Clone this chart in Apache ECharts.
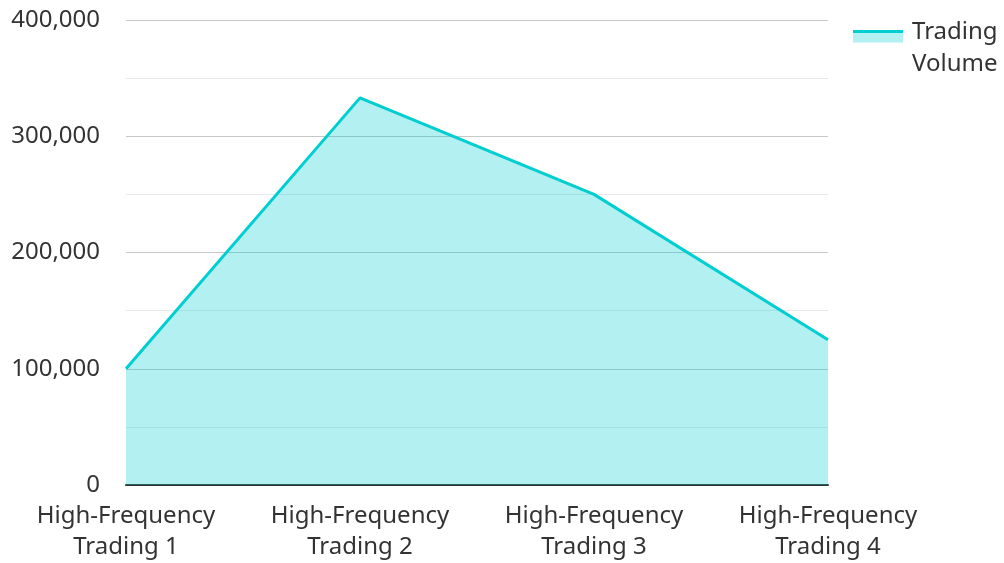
<!DOCTYPE html>
<html>
<head>
<meta charset="utf-8">
<script src="https://cdn.jsdelivr.net/npm/echarts@6/dist/echarts.min.js"></script>
<style>html,body{margin:0;padding:0;background:#fff;}#c{width:1004px;height:563px;}</style>
</head>
<body>
<div id="c"></div>
<script>
const categories = ["High-Frequency\nTrading 1", "High-Frequency\nTrading 2", "High-Frequency\nTrading 3", "High-Frequency\nTrading 4"];
const tradingVolume = [100000, 333000, 250000, 125000];
const seriesName = "Trading\nVolume";

const iconSvg = '<svg xmlns="http://www.w3.org/2000/svg" width="50" height="37" viewBox="0 0 50 37">' +
  '<rect x="0" y="3" width="50" height="10" fill="#b3f0f1"/>' +
  '<rect x="0" y="0" width="50" height="3.5" fill="#00CED1"/></svg>';
const legendIcon = 'image://data:image/svg+xml;charset=utf-8,' + encodeURIComponent(iconSvg);

const chart = echarts.init(document.getElementById('c'));
chart.setOption({
  textStyle: { fontFamily: 'Noto Sans' },
  legend: {
    left: 848, top: 11, orient: 'vertical',
    itemWidth: 50, itemHeight: 37,
    icon: legendIcon,
    textStyle: { fontSize: 24, color: '#333', lineHeight: 32, fontFamily: 'Noto Sans', padding: [0, 0, 0, 4] },
    data: [{ name: seriesName, icon: legendIcon }]
  },
  grid: { left: 126, right: 176, top: 20, bottom: 76 },
  xAxis: {
    type: 'category', data: categories, boundaryGap: false,
    axisLine: { lineStyle: { color: '#333', width: 2 } },
    axisTick: { show: false },
    axisLabel: { fontSize: 24, color: '#333', lineHeight: 31, margin: 16, fontFamily: 'Noto Sans' }
  },
  yAxis: {
    type: 'value', min: 0, max: 400000, interval: 100000,
    axisLine: { show: false }, axisTick: { show: false },
    axisLabel: { fontSize: 24, color: '#333', margin: 26, fontFamily: 'Noto Sans',
      formatter: v => v.toLocaleString('en-US') },
    splitLine: { lineStyle: { color: '#c8c8c8', width: 1 } },
    minorTick: { show: false, splitNumber: 2 },
    minorSplitLine: { show: true, lineStyle: { color: '#e8e8e8', width: 1 } }
  },
  series: [{
    name: seriesName, type: 'line', data: tradingVolume,
    symbol: 'none',
    lineStyle: { color: '#00CED1', width: 3 },
    itemStyle: { color: '#00CED1' },
    areaStyle: { color: '#00CED1', opacity: 0.3 }
  }]
});
</script>
</body>
</html>
